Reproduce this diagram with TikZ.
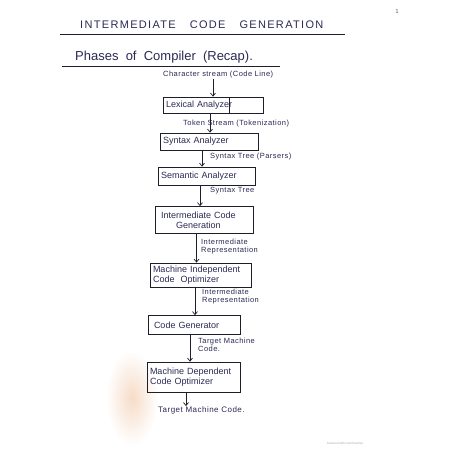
\documentclass[tikz,border=0pt]{standalone}
\usepackage{fontspec}
\setmainfont{Liberation Sans}
\usetikzlibrary{arrows.meta}
\definecolor{ink}{HTML}{2B2A55}
\definecolor{pen}{HTML}{1E1E2A}
\definecolor{stain}{HTML}{F6DCC8}
\tikzset{
  stage/.style={draw=pen, line width=0.8pt, text=ink, align=left, inner sep=2pt, font=\fontsize{9}{10}\selectfont, anchor=center},
  lbl/.style={text=ink, font=\fontsize{7.5}{8}\selectfont\addfontfeatures{LetterSpace=6}, align=left, inner sep=0pt, anchor=west},
  flow/.style={draw=pen, line width=0.7pt, -{Straight Barb[length=3pt,width=5pt]}},
  rule/.style={draw=pen, line width=0.7pt}
}
\begin{document}
\begin{tikzpicture}[x=1pt,y=-1pt]
\useasboundingbox[fill=white] (0,0) rectangle (452,452);
% faint scan stain
\shade[inner color=stain, outer color=white] (132,398) ellipse [x radius=26, y radius=48];
% title
\node[text=ink, font=\fontsize{11}{12}\selectfont\addfontfeatures{LetterSpace=12}, anchor=west, inner sep=0pt] (title) at (80,25) {INTERMEDIATE\hspace{14pt}CODE\hspace{14pt}GENERATION};
\coordinate (t1) at (60,34); \coordinate (t2) at (345,34);
\draw[rule] (t1) -- (t2);
\node[text=ink, font=\fontsize{13}{14}\selectfont, anchor=west, inner sep=0pt] (sub) at (75,57) {Phases \ of \ Compiler \ (Recap).};
\coordinate (s1) at (62,66); \coordinate (s2) at (280,66);
\draw[rule] (s1) -- (s2);
\node[text=gray!80!black, anchor=center, inner sep=0pt, font=\fontsize{6}{6}\selectfont] (one) at (397,11) {1};
% input label
\node[lbl] (cs) at (163,75) {Character stream (Code Line)};
% boxes
\node[stage, minimum width=100pt, minimum height=16pt, text width=94pt] (lex) at (213,105) {Lexical Analyzer};
\node[stage, minimum width=98pt, minimum height=17pt, text width=92pt] (syn) at (209,141.5) {Syntax Analyzer};
\node[stage, minimum width=97pt, minimum height=18pt, text width=91pt] (sem) at (206.5,176) {Semantic Analyzer};
\node[stage, minimum width=98pt, minimum height=27pt, text width=92pt] (icg) at (204,220) {\ Intermediate Code\\\qquad Generation};
\node[stage, minimum width=101pt, minimum height=24pt, text width=95pt] (mico) at (200.5,275) {Machine Independent\\Code \ Optimizer};
\node[stage, minimum width=92pt, minimum height=19pt, text width=86pt] (cg) at (194,325) {\ Code Generator};
\node[stage, minimum width=93pt, minimum height=30pt, text width=87pt] (mdco) at (193.5,377) {Machine Dependent\\Code Optimizer};
% inner stroke in lexical box
\draw[rule] (lex.north -| 229,0) -- (lex.south -| 229,0);
% labels
\node[lbl] (ts) at (183,124) {Token Stream (Tokenization)};
\node[lbl] (st1) at (210,157) {Syntax Tree (Parsers)};
\node[lbl] (st2) at (210,191) {Syntax Tree};
\node[lbl] (ir1) at (201,246.5) {Intermediate\\Representation};
\node[lbl] (ir2) at (202,297) {Intermediate\\Representation};
\node[lbl] (tmc1) at (198,345) {Target Machine\\Code.};
\node[lbl, font=\fontsize{8}{9}\selectfont\addfontfeatures{LetterSpace=6}] (tmc2) at (158,410) {Target Machine Code.};
\node[text=gray!70, font=\fontsize{3}{3}\selectfont, inner sep=0pt] (scan) at (345,443) {Scanned with CamScanner};
% connectors
\draw[flow] (cs.south -| lex.north) -- (lex.north);
\draw[flow] ([xshift=-3pt]lex.south) -- ([xshift=-3pt]lex.south |- syn.north);
\draw[flow] ([xshift=-7pt]syn.south) -- ([xshift=-7pt]syn.south |- sem.north);
\draw[flow] ([xshift=-6.5pt]sem.south) -- ([xshift=-6.5pt]sem.south |- icg.north);
\draw[flow] ([xshift=-7.5pt]icg.south) -- ([xshift=-7.5pt]icg.south |- mico.north);
\draw[flow] ([xshift=-5.5pt]mico.south) -- ([xshift=-5.5pt]mico.south |- cg.north);
\draw[flow] ([xshift=-4pt]cg.south) -- ([xshift=-4pt]cg.south |- mdco.north);
\draw[flow] ([xshift=-7.5pt]mdco.south) -- ([xshift=-7.5pt]mdco.south |- tmc2.north);
\end{tikzpicture}
\end{document}
